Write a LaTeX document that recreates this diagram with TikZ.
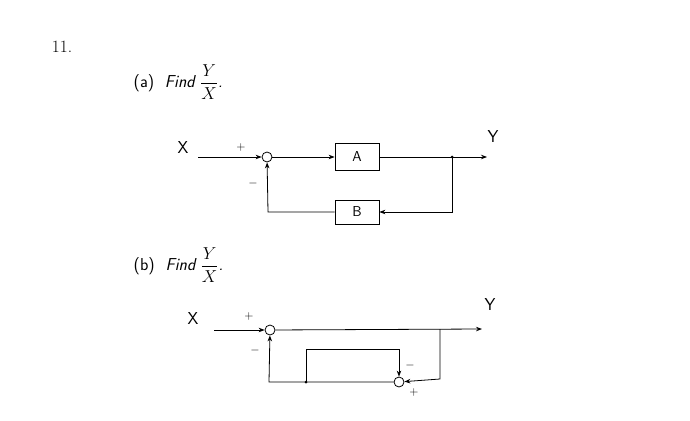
\documentclass[tikz,border=0pt]{standalone}
\usetikzlibrary{arrows.meta}
\begin{document}
\begin{tikzpicture}[x=1pt,y=-1pt,line width=0.8pt,
  sumc/.style={circle,draw,inner sep=0pt,minimum size=10pt},
  blk/.style={draw,minimum width=44pt,minimum height=27pt,font=\sffamily\Large},
  lbl/.style={font=\sffamily\LARGE},
  sg/.style={font=\sffamily\large},
  arr/.style={-{Stealth[length=6pt]}}]
\useasboundingbox (0,0) rectangle (690,420);
\node[font=\LARGE] (num) at (62,47) {11.};
\node[lbl,anchor=west] (ta) at (130,82) {(a)\ \ \itshape Find\ $\displaystyle\frac{Y}{X}$.};
\node[lbl,anchor=west] (tb) at (130,265) {(b)\ \ \itshape Find\ $\displaystyle\frac{Y}{X}$.};
% part a
\coordinate (ina) at (198,157);
\node[sumc] (sa) at (267,157) {};
\node[blk] (A) at (357,157) {A};
\node[blk,minimum height=24pt] (B) at (357,212) {B};
\coordinate (ta2) at (452,157);
\coordinate (outa) at (487,157);
\coordinate (tb2) at (452,212);
\coordinate (fa) at (268,212);
\draw[arr] (ina) -- (sa);
\draw[arr] (sa) -- (A);
\draw[arr] (A) -- (outa);
\fill (ta2) circle (1.5pt);
\draw[arr] (ta2) -- (tb2) -- (B);
\draw[arr] (B) -- (fa) -- (sa);
\node[lbl] (xa) at (183,148) {X};
\node[lbl] (ya) at (493,137) {Y};
\node[sg] (pa) at (241,148) {+};
\node[sg] (ma) at (253,183) {$-$};
% part b
\coordinate (inb) at (214,330);
\node[sumc] (sb) at (270,330) {};
\node[sumc] (s2) at (399,382) {};
\coordinate (outb) at (482,329);
\coordinate (tp) at (440,329);
\coordinate (tq) at (440,379);
\coordinate (bl) at (269,382);
\coordinate (nd) at (306,382);
\coordinate (il) at (306,349);
\coordinate (ir) at (399,349);
\draw[arr] (inb) -- (sb);
\draw[arr] (sb) -- (outb);
\draw[arr] (tp) -- (tq) -- (s2);
\draw[arr] (s2) -- (bl) -- (sb);
\fill (nd) circle (1.5pt);
\draw[arr] (nd) -- (il) -- (ir) -- (s2);
\node[lbl] (xb) at (193,318) {X};
\node[lbl] (yb) at (490,305) {Y};
\node[sg] (pb) at (249,317) {+};
\node[sg] (mb) at (255,350) {$-$};
\node[sg] (m2) at (410,365) {$-$};
\node[sg] (p2) at (414,393) {+};
\end{tikzpicture}
\end{document}
